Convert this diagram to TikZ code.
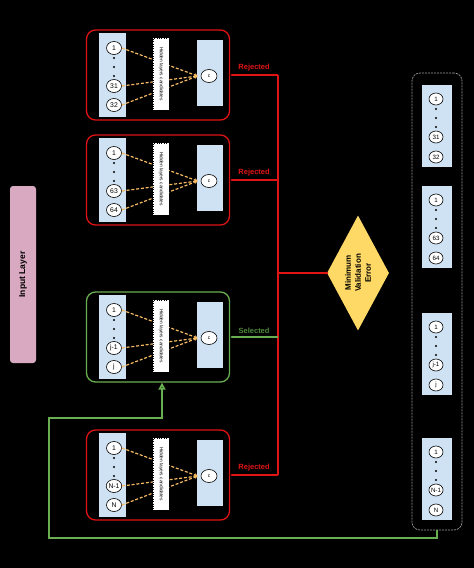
\documentclass[tikz,border=0pt]{standalone}
\usepackage{fontspec}
\setmainfont{Liberation Sans}
\usetikzlibrary{arrows.meta,shapes.geometric}
\definecolor{rejred}{HTML}{E01414}
\definecolor{selgreen}{HTML}{6AAE52}
\definecolor{seltext}{HTML}{4E8A3A}
\definecolor{lblue}{HTML}{CFE2F3}
\definecolor{orangeln}{HTML}{F6BA62}
\definecolor{dmdyellow}{HTML}{FFD966}
\definecolor{pinkc}{HTML}{D8A9C0}
\tikzset{
  colbox/.style={fill=lblue, inner sep=0pt},
  neur/.style={ellipse, draw=black, fill=white, line width=0.6pt, inner sep=0pt, minimum width=15pt, minimum height=13pt, font=\fontsize{6.8}{6.8}\selectfont},
  sneur/.style={neur, minimum width=14pt, minimum height=12pt, font=\fontsize{6.2}{6.2}\selectfont},
  cneur/.style={neur, minimum width=16pt, minimum height=13pt, font=\fontsize{5}{5}\selectfont},
  hidbox/.style={draw=black, dotted, fill=white, rotate=-90, inner sep=0pt, minimum width=72pt, minimum height=16pt, font=\fontsize{4.8}{4.8}\selectfont},
  orangearr/.style={draw=orangeln, line width=1.2pt, dash pattern=on 3pt off 1.8pt, -{Stealth[length=3.5pt,width=3.5pt]}},
  redline/.style={draw=rejred, line width=1.1pt},
  redarr/.style={redline, -{Latex[length=2.5pt,width=2.5pt]}},
  greenarr/.style={draw=selgreen, line width=1.1pt, -{Latex[length=2.5pt,width=2.5pt]}},
  lbl/.style={font=\fontsize{7.5}{7.5}\selectfont\bfseries, inner sep=1pt},
}
\newcommand\candbox[5]{%
 \begin{scope}[shift={(0,#2)}]
  \node[draw=#3, line width=1.3pt, rounded corners=9pt, minimum width=143pt, minimum height=90pt, inner sep=0pt] (#1) at (158,45) {};
  \node[colbox, minimum width=27pt, minimum height=84pt] (#1-col) at (112.5,45) {};
  \node[colbox, minimum width=26pt, minimum height=66pt] (#1-r) at (210,43) {};
  \node[neur] (#1-n1) at (114,18) {1};
  \node[neur] (#1-n2) at (114,56) {#4};
  \node[neur] (#1-n3) at (114,75) {#5};
  \node[cneur] (#1-c) at (209,46) {c};
  \foreach \d in {28,37,46} \fill[black] (114,\d) circle (1.1pt);
  \foreach \n in {n1,n2,n3} \draw[orangearr] (#1-\n.east) -- ([xshift=-3pt]#1-c.west);
  \node[hidbox] (#1-h) at (161,44) {Hidden layers candidates};
 \end{scope}}
\newcommand\sidecol[4]{%
 \begin{scope}[shift={(0,#2)}]
  \node[colbox, minimum width=30pt, minimum height=82pt] (#1) at (437,41) {};
  \node[sneur] (#1-n1) at (436,14) {1};
  \node[sneur] (#1-n2) at (436,52) {#3};
  \node[sneur] (#1-n3) at (436,72) {#4};
  \foreach \d in {24,33,42} \fill[black] (436,\d) circle (1.1pt);
 \end{scope}}
\begin{document}
\begin{tikzpicture}[x=1pt,y=-1pt]
\fill[black] (0,0) rectangle (474,568);
\useasboundingbox (0,0) rectangle (474,568);
% input layer
\node[fill=pinkc, rounded corners=3pt, rotate=90, minimum width=177pt, minimum height=26pt, inner sep=0pt, font=\fontsize{8.5}{8.5}\selectfont\bfseries] (inp) at (23,274.5) {Input Layer};
% candidate boxes
\candbox{b1}{30}{rejred}{31}{32}
\candbox{b2}{135}{rejred}{63}{64}
\candbox{b3}{292}{selgreen}{j-1}{j}
\candbox{b4}{430}{rejred}{N-1}{N}
% decision diamond
\node[diamond, fill=dmdyellow, minimum width=62pt, minimum height=115pt, inner sep=0pt] (dmd) at (358,273) {};
\node[rotate=90, align=center, font=\fontsize{8}{10}\selectfont\bfseries, inner sep=0pt] (dmdtxt) at (dmd) {Minimum\\Validation\\Error};
% right dashed container
\node[draw=gray!80, dashed, line width=0.7pt, dash pattern=on 2pt off 1pt, rounded corners=8pt, minimum width=50pt, minimum height=457pt, inner sep=0pt] (rbox) at (437,301.5) {};
\sidecol{s1}{85}{31}{32}
\sidecol{s2}{186}{63}{64}
\sidecol{s3}{313}{j-1}{j}
\sidecol{s4}{438}{N-1}{N}
% connectors
\coordinate (junc) at (278,273);
\draw[redline] (dmd.west) -- (junc);
\fill[rejred] (dmd.west) circle (1.5pt);
\draw[redline] (junc |- b1.east) -- (junc |- b4.east);
\draw[redarr] (junc |- b1.east) -- (b1.east) node[lbl, text=rejred, midway, above=2pt] (l1) {Rejected};
\draw[redarr] (junc |- b2.east) -- (b2.east) node[lbl, text=rejred, midway, above=2pt] (l2) {Rejected};
\draw[redarr] (junc |- b4.east) -- (b4.east) node[lbl, text=rejred, midway, above=2pt] (l4) {Rejected};
\draw[greenarr] (junc |- b3.east) -- (b3.east) node[lbl, text=seltext, midway, above=2pt] (l3) {Selected};
\coordinate (gup) at (162,418);
\draw[draw=selgreen, line width=2.2pt, -{Triangle[open,length=7pt,width=7pt]}] (rbox.south) |- (49,538) |- (gup) -- (gup |- b3.south);
\end{tikzpicture}
\end{document}
